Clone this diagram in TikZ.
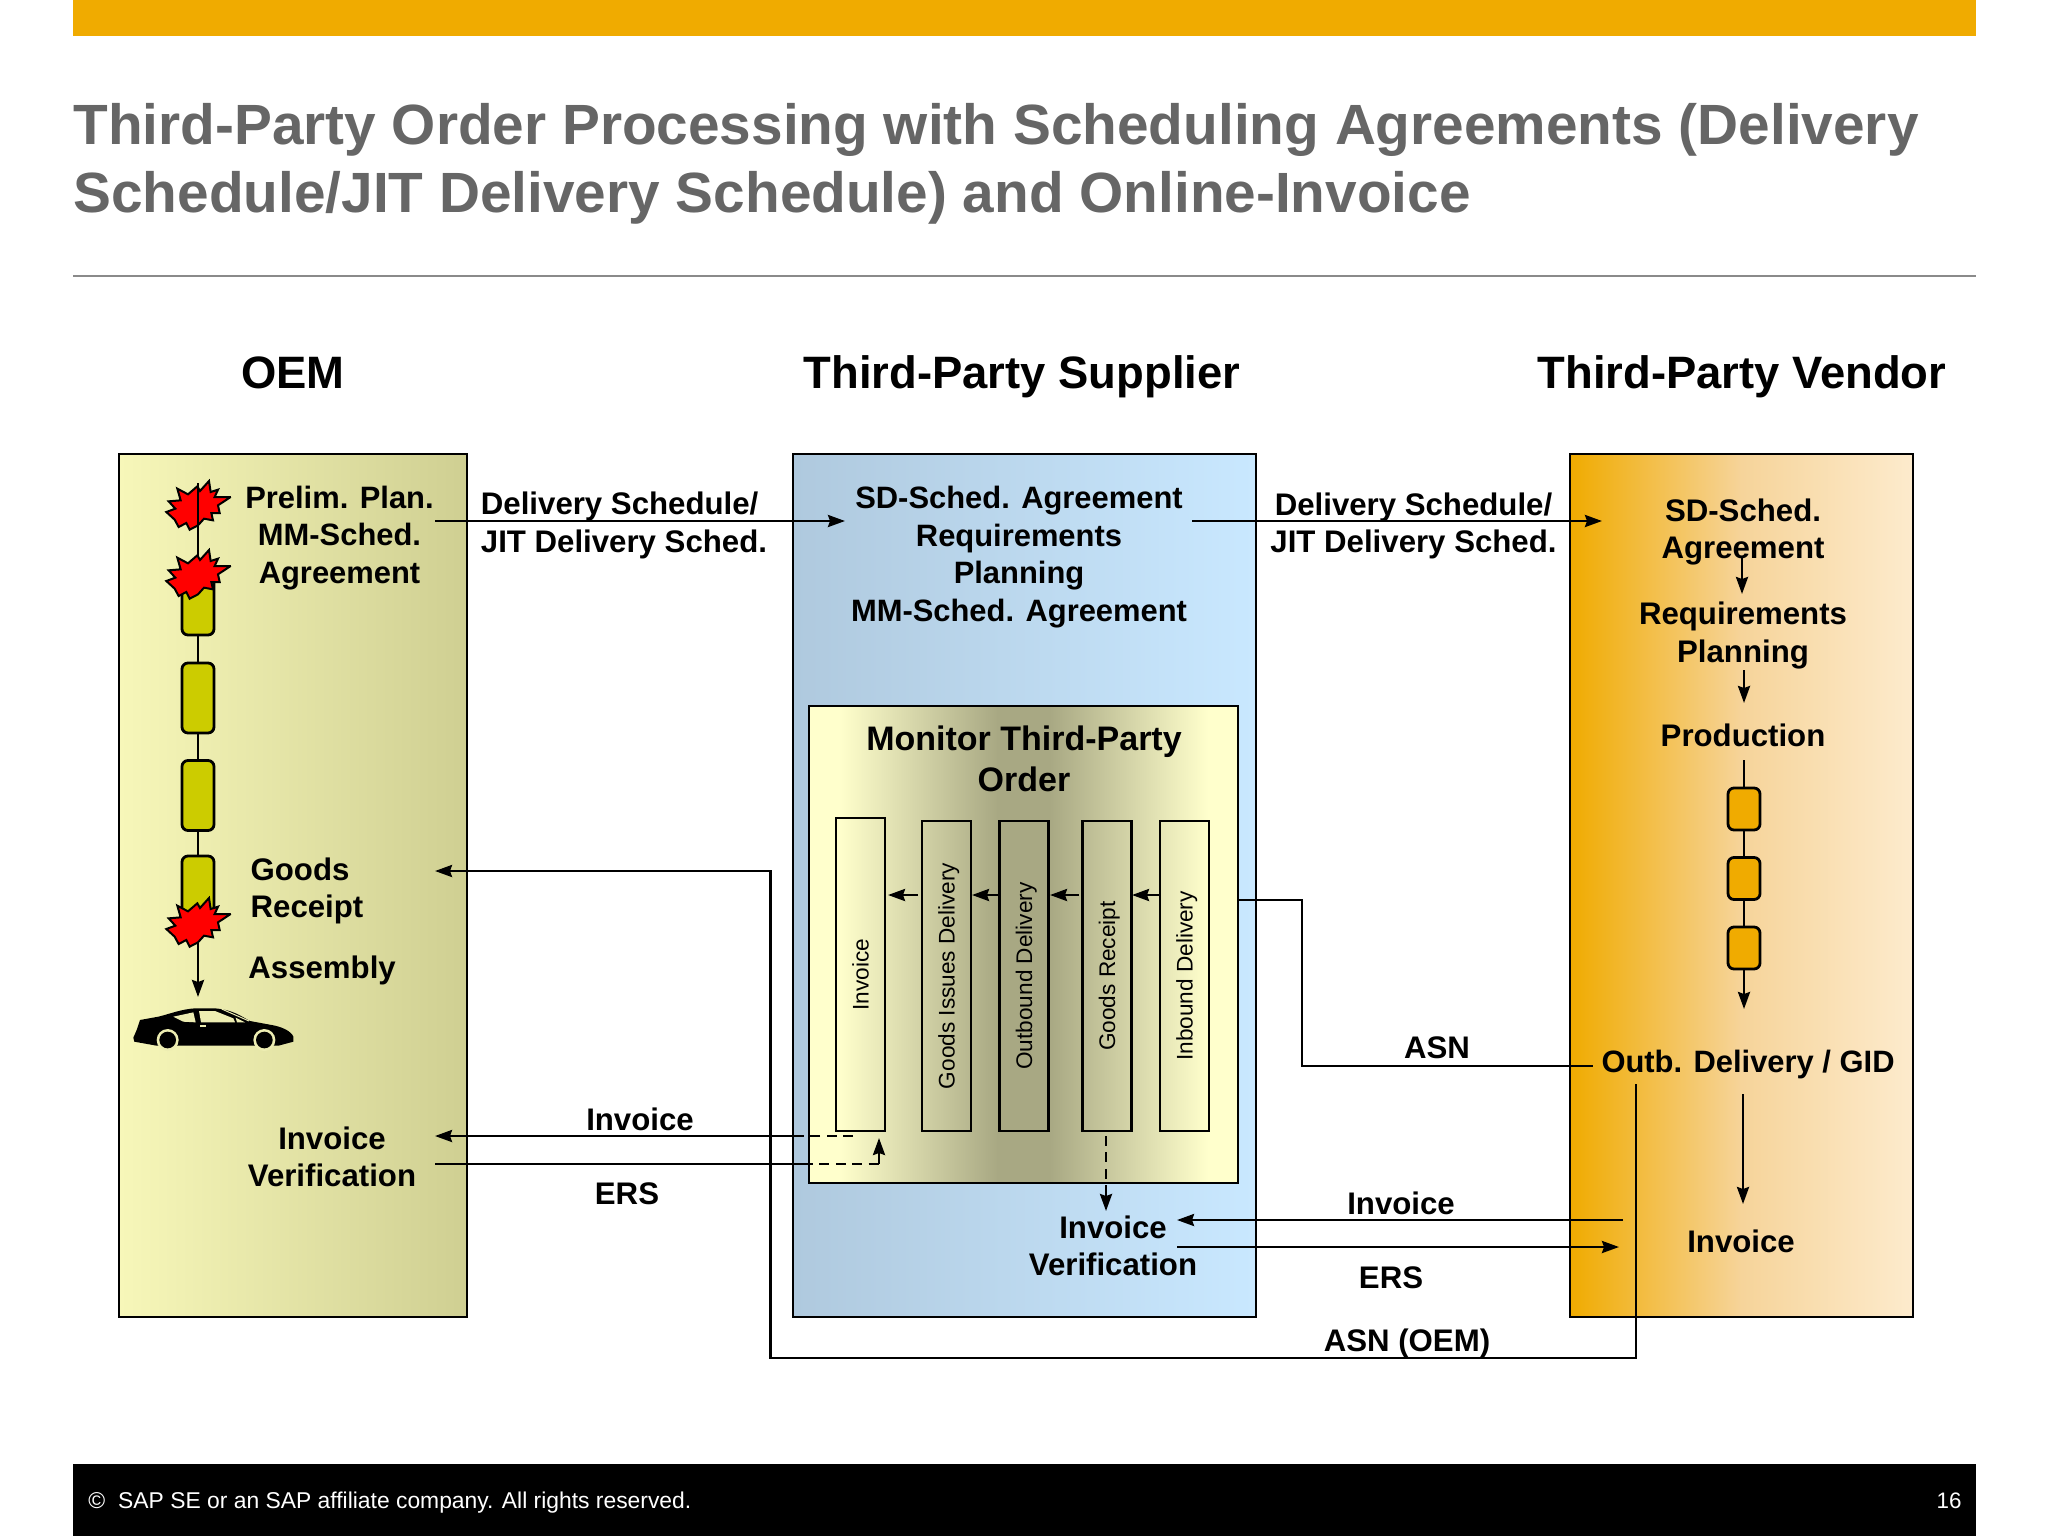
\documentclass[tikz,border=0pt]{standalone}
\usepackage{fontspec}
\setmainfont{Liberation Sans}
\usetikzlibrary{arrows.meta}
\definecolor{sapgold}{HTML}{F0AB00}
\definecolor{titlegray}{HTML}{666666}
\definecolor{rulegray}{HTML}{8A8A8A}
\definecolor{oemL}{HTML}{F7F7B9}
\definecolor{oemR}{HTML}{CFCF92}
\definecolor{supL}{HTML}{AFC9DE}
\definecolor{supR}{HTML}{C9E8FF}
\definecolor{venM}{HTML}{F6D49A}
\definecolor{venR}{HTML}{FDEBCD}
\definecolor{monE}{HTML}{FFFFCC}
\definecolor{monM}{HTML}{A8A883}
\definecolor{chainO}{HTML}{CCCC00}
\definecolor{carlight}{HTML}{EDEDB2}
\pgfdeclarehorizontalshading{monshade}{100bp}{color(0bp)=(monE); color(25bp)=(monE); color(28.5bp)=(monE); color(47bp)=(monM); color(53bp)=(monM); color(71.5bp)=(monE); color(100bp)=(monE)}
\tikzset{
  panel/.style={draw=black,line width=1.4pt},
  lbl/.style={font=\bfseries\fontsize{15.6}{18.8}\selectfont,align=center,text=black,inner sep=0pt},
  lblt/.style={lbl,font=\bfseries\fontsize{15.45}{18.8}\selectfont},
  lbll/.style={lbl,align=left},
  head/.style={font=\bfseries\fontsize{22.7}{27}\selectfont,text=black,inner sep=0pt,anchor=base},
  mon/.style={font=\bfseries\fontsize{17}{20.2}\selectfont,align=center,text=black,inner sep=0pt},
  coltxt/.style={draw=black,line width=1.25pt,rotate=90,minimum height=24.5pt,inner sep=0pt,text height=9.4pt,text depth=1.2pt,font=\fontsize{11.3}{13}\selectfont,text=black},
  link/.style={draw=black,line width=1.3pt},
  arr/.style={link,-{Stealth[length=8.5pt,width=6pt,inset=1pt]}},
  dashlink/.style={link,dash pattern=on 5pt off 3.2pt},
  linkO/.style={draw=black,line width=1.4pt,fill=chainO,rounded corners=3pt,inner sep=0pt,minimum width=16pt},
  linkV/.style={draw=black,line width=1.4pt,fill=sapgold,rounded corners=3pt,inner sep=0pt,minimum width=16pt,minimum height=21pt},
  burst/.style={draw=black,line width=1pt,fill=red,line join=miter,miter limit=3},
}
\newcommand{\burstat}[2]{%
  \begin{scope}[shift={(#1,#2)},x=0.1667pt,y=-0.1667pt]
  \path[burst] (-2,-62)--(6,-48)--(33,-78)--(38,-45)--(60,-52)--(50,-30)--(98,-30)--(60,-5)--(65,18)--(40,18)--(45,40)--(18,35)--(0,55)--(-25,68)--(-35,48)--(-58,60)--(-70,38)--(-95,15)--(-68,5)--(-88,-17)--(-52,-20)--(-62,-55)--(-30,-38)--cycle;
  \end{scope}}
\begin{document}
\begin{tikzpicture}[x=0.5pt,y=-0.5pt]
\useasboundingbox (0,0) rectangle (2048,1536);
\fill[white] (0,0) rectangle (2048,1536);
% frame
\fill[sapgold] (73,0) rectangle (1976,36);
\fill[black] (73,1464) rectangle (1976,1536);
\draw[rulegray,line width=0.8pt] (73,276) -- (1976,276);
\node[anchor=base west,inner sep=0pt,text=titlegray,font=\bfseries\fontsize{28.38}{34}\selectfont] (t1) at (73,144) {Third-Party Order Processing with Scheduling Agreements (Delivery};
\node[anchor=base west,inner sep=0pt,text=titlegray,font=\bfseries\fontsize{28.38}{34}\selectfont] (t2) at (73,212) {Schedule/JIT Delivery Schedule) and Online-Invoice};
\node[anchor=base west,inner sep=0pt,text=white,font=\fontsize{11.43}{13}\selectfont] (foot) at (88,1508) {©\hspace{6.5pt}SAP SE or an SAP affiliate company. All rights reserved.};
\node[anchor=base east,inner sep=0pt,text=white,font=\fontsize{11.2}{13}\selectfont] (page) at (1962,1508) {16};
% headings
\node[head] (hoem) at (293,388) {OEM};
\node[head] (hsup) at (1022,388) {Third-Party Supplier};
\node[head] (hven) at (1742,388) {Third-Party Vendor};
% panels
\path[panel,left color=oemL,right color=oemR] (119,454) rectangle (467,1317);
\path[panel,left color=supL,right color=supR] (793,454) rectangle (1256,1317);
\path[panel,left color=sapgold,right color=venR,middle color=venM] (1570,454) rectangle (1913,1317);
\path[panel,shading=monshade] (809,706) rectangle (1238,1183);
% columns
\node[coltxt,minimum width=156.5pt] (cinv) at (860.5,974.5) {Invoice};
\node[coltxt,minimum width=155pt] (cgi) at (946.5,976) {Goods Issues Delivery};
\node[coltxt,minimum width=155pt] (cout) at (1024,976) {Outbound Delivery};
\node[coltxt,minimum width=155pt] (cgr) at (1107,976) {Goods Receipt};
\node[coltxt,minimum width=155pt] (cin) at (1184.5,976) {Inbound Delivery};
\coordinate (a1) at (918,895); \coordinate (a1e) at (888,895);
\coordinate (a2) at (999,895); \coordinate (a2e) at (972,895);
\coordinate (a3) at (1079,895); \coordinate (a3e) at (1050,895);
\coordinate (a4) at (1160,895); \coordinate (a4e) at (1132,895);
\draw[arr] (a1) -- (a1e);
\draw[arr] (a2) -- (a2e);
\draw[arr] (a3) -- (a3e);
\draw[arr] (a4) -- (a4e);
% OEM chain
\burstat{198}{507}
\coordinate (chT) at (198,483); \coordinate (chB) at (198,997);
\draw[arr] (chT) -- (chB);
\node[linkO,minimum height=30pt] (o1) at (198,605) {};
\node[linkO,minimum height=35pt] (o2) at (198,698) {};
\node[linkO,minimum height=35pt] (o3) at (198,795.5) {};
\node[linkO,minimum height=33pt] (o4) at (198,889) {};
\burstat{198}{576}
\burstat{198}{924}
% car
\begin{scope}[shift={(125,995)},x=0.1667pt,y=-0.1667pt]
\fill[black] (25,128) -- (28,140) -- (95,152) -- (460,152) -- (505,140) -- (505,125) .. controls (498,108) and (470,95) .. (440,90) -- (375,78) .. controls (345,62) and (325,45) .. (270,40) -- (210,40) .. controls (170,42) and (130,58) .. (100,65) -- (45,75) -- (35,105) -- cycle;
\fill[carlight] (128,135) circle (33);
\fill[carlight] (418,135) circle (33);
\fill[black] (128,135) circle (25);
\fill[black] (418,135) circle (25);
\fill[carlight] (145,65) -- (205,52) -- (212,82) -- (175,80) -- cycle;
\fill[carlight] (222,48) -- (270,48) -- (325,70) -- (330,82) -- (228,82) -- cycle;
\fill[carlight] (332,68) -- (360,82) -- (336,82) -- cycle;
\fill[carlight] (224,89) rectangle (242,95);
\draw[carlight,line width=0.5pt] (290,42) -- (372,78);
\end{scope}
% OEM labels
\node[lblt] (prelim) at (339.5,538) {Prelim. Plan.\\MM-Sched.\\Agreement};
\node[lbll] (gr) at (307,891) {Goods\\Receipt};
\node[lbll,anchor=west] (asm) at (248,970) {Assembly};
\node[lbl] (ivo) at (332,1157) {Invoice\\Verification};
% supplier labels
\node[lblt] (sds) at (1019,557) {SD-Sched. Agreement\\Requirements\\Planning\\MM-Sched. Agreement};
\node[mon] (mont) at (1024,759) {Monitor Third-Party\\Order};
\node[lbl] (ivs) at (1113,1246) {Invoice\\Verification};
% vendor labels
\node[lbl] (vsd) at (1743,532) {SD-Sched.\\Agreement};
\node[lbl] (vreq) at (1743,635.5) {Requirements\\Planning};
\node[lbl] (vprod) at (1743,735) {Production};
\node[lblt] (vout) at (1748,1064.5) {Outb. Delivery / GID};
\node[lbl] (vinv) at (1741,1241) {Invoice};
% vendor chain
\coordinate (v1s) at (1742,558); \coordinate (v1e) at (1742,594);
\coordinate (v2s) at (1744,670); \coordinate (v2e) at (1744,703);
\coordinate (v3s) at (1744,760); \coordinate (v3e) at (1744,1009);
\coordinate (v4s) at (1743,1094); \coordinate (v4e) at (1743,1204);
\draw[arr] (v1s) -- (v1e);
\draw[arr] (v2s) -- (v2e);
\draw[arr] (v3s) -- (v3e);
\draw[arr] (v4s) -- (v4e);
\node[linkV] (s1) at (1744,809) {};
\node[linkV] (s2) at (1744,878.5) {};
\node[linkV] (s3) at (1744,948) {};
% between panels
\node[lbll] (ds1) at (624,525.5) {Delivery Schedule/\\JIT Delivery Sched.};
\node[lbl] (ds2) at (1413.5,526) {Delivery Schedule/\\JIT Delivery Sched.};
\coordinate (p1) at (435,521); \coordinate (p2) at (845,521);
\coordinate (p3) at (1192,521); \coordinate (p4) at (1602,521);
\draw[arr] (p1) -- (p2);
\draw[arr] (p3) -- (p4);
% ASN (monitor to vendor)
\coordinate (m1) at (1238,900); \coordinate (m2) at (1302,900); \coordinate (m3) at (1302,1066); \coordinate (m4) at (1593,1066);
\draw[link] (m1) -- (m2) -- (m3) -- (m4);
\node[lbl] (asn) at (1437,1048) {ASN};
% ASN (OEM)
\coordinate (q1) at (1636,1084); \coordinate (q2) at (1636,1358); \coordinate (q3) at (770.5,1358); \coordinate (q4) at (770.5,871); \coordinate (q5) at (435,871);
\draw[arr] (q1) -- (q2) -- (q3) -- (q4) -- (q5);
\node[lbl] (asno) at (1407,1343.5) {ASN (OEM)};
% invoice / ERS, OEM side
\coordinate (i1) at (853,1136); \coordinate (i2) at (803,1136); \coordinate (i3) at (435,1136);
\draw[dashlink] (i1) -- (i2);
\draw[arr] (i2) -- (i3);
\coordinate (e1) at (435,1164); \coordinate (e2) at (803,1164); \coordinate (e3) at (879,1164); \coordinate (e4) at (879,1138);
\draw[link] (e1) -- (e2);
\draw[dashlink] (e2) -- (e3);
\draw[arr] (e3) -- (e4);
\node[lbl] (linv) at (640,1119) {Invoice};
\node[lbl] (lers) at (627,1194) {ERS};
% goods receipt to invoice verification
\coordinate (g1) at (1106,1136); \coordinate (g2) at (1106,1194); \coordinate (g3) at (1106,1211);
\draw[dashlink] (g1) -- (g2);
\draw[arr] (g2) -- (g3);
% invoice / ERS, vendor side
\coordinate (r1) at (1623,1220); \coordinate (r2) at (1177,1220);
\coordinate (r3) at (1177,1247); \coordinate (r4) at (1619,1247);
\draw[arr] (r1) -- (r2);
\draw[arr] (r3) -- (r4);
\node[lbl] (linv2) at (1401,1203) {Invoice};
\node[lbl] (lers2) at (1391,1278) {ERS};
\end{tikzpicture}
\end{document}
